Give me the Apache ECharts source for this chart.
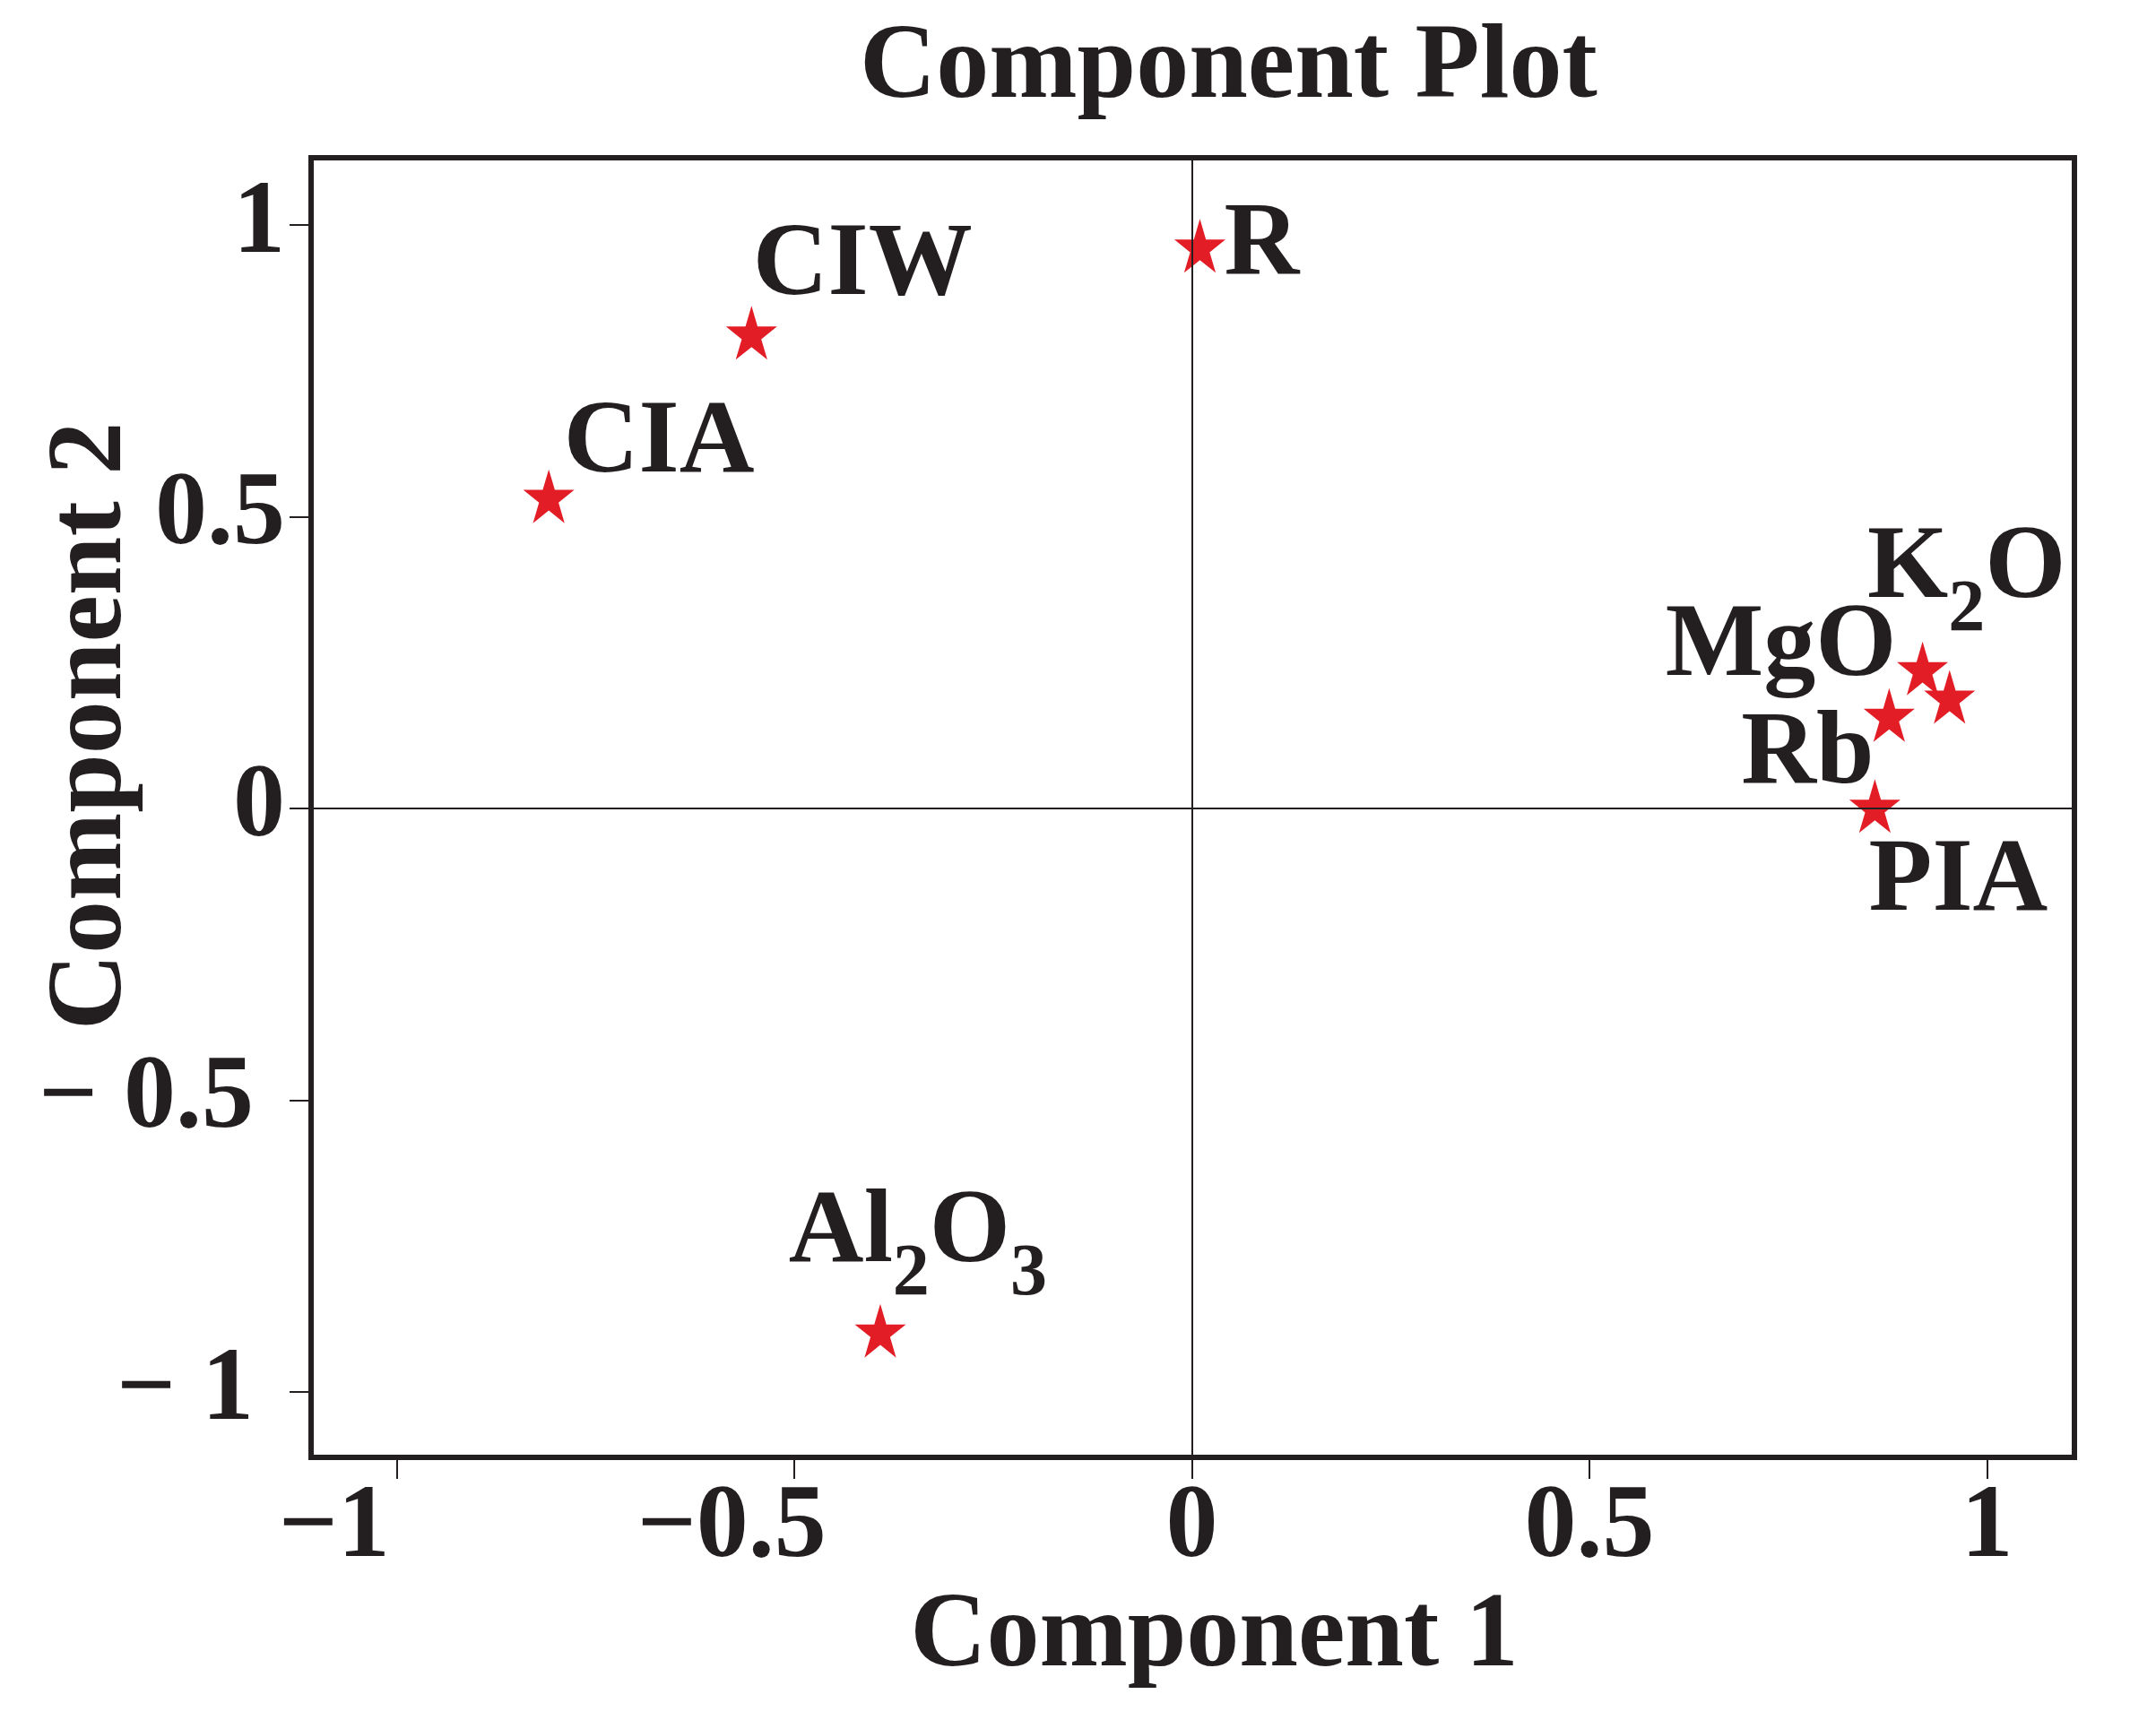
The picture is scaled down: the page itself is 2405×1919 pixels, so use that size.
<!DOCTYPE html>
<html><head><meta charset="utf-8">
<script src="https://cdn.jsdelivr.net/npm/echarts@6/dist/echarts.min.js"></script>
<style>html,body{margin:0;padding:0;background:#fff}#c{width:2405px;height:1919px}</style>
</head><body><div id="c"></div>
<script>
// ---- data ----
const names = ['R', 'CIW', 'CIA', 'Al2O3', 'MgO', 'K2O', 'Rb', 'PIA'];
const labelTexts = ['{n|R}', '{n|CIW}', '{n|CIA}', '{n|Al}{s|2}{n|O}{s|3}', '{n|MgO}', '{n|K}{s|2}{n|O}', '{n|Rb}', '{n|PIA}'];
const component1 = [0.010, -0.554, -0.809, -0.392, 0.919, 0.953, 0.877, 0.859];
const component2 = [0.964, 0.815, 0.535, -0.895, 0.240, 0.191, 0.160, 0.004];
const tickValues = [-1, -0.5, 0, 0.5, 1];
const titleText = 'Component Plot';
const xName = 'Component 1';
const yName = 'Component 2';

// ---- style (label placement relative to each star) ----
const labelOffsets = [[69, 1], [124, -73], [123, -58], [42, -108], [-158, -23], [19, -142], [-91, 45], [93, 86]];

const FONT = '"Liberation Serif", "Times New Roman", serif';
const INK = '#231f20';
const RED = '#e31d25';
const STAR = 'path://M0,-50 L11.23,-15.45 L47.55,-15.45 L18.16,5.9 L29.39,40.45 L0,19.1 L-29.39,40.45 L-18.16,5.9 L-47.55,-15.45 L-11.23,-15.45 Z';

const seriesData = names.map((n, i) => ({
  name: n,
  value: [component1[i], component2[i]],
  label: { offset: labelOffsets[i], formatter: labelTexts[i] }
}));

const chart = echarts.init(document.getElementById('c'));
chart.setOption({
  animation: false,
  backgroundColor: '#fff',
  title: {
    text: titleText, left: 959, top: 19, padding: 0,
    textStyle: { fontFamily: FONT, fontWeight: 'bold', fontSize: 118, color: INK }
  },
  grid: {
    left: 347, right: 91, top: 176, bottom: 293,
    show: true, borderColor: INK, borderWidth: 6, backgroundColor: 'transparent'
  },
  xAxis: {
    type: 'value', min: -1.108, max: 1.110,
    name: xName, nameLocation: 'middle', nameGap: 125,
    nameTextStyle: { fontFamily: FONT, fontWeight: 'bold', fontSize: 118, color: INK, padding: [0, 0, 0, 48] },
    axisLine: { show: false, onZero: false },
    splitLine: { show: false },
    axisTick: { show: true, customValues: tickValues, length: 24, lineStyle: { color: INK, width: 2 } },
    axisLabel: {
      customValues: tickValues, margin: 22,
      fontFamily: FONT, fontWeight: 'bold', fontSize: 116, color: INK,
      formatter: v => v < 0 ? '{neg|\u2212' + Math.abs(v) + '}' : '{p|' + v + '}',
      rich: {
        neg: { fontFamily: FONT, fontWeight: 'bold', fontSize: 116, color: INK, padding: [0, 140, 0, 0] },
        p: { fontFamily: FONT, fontWeight: 'bold', fontSize: 116, color: INK }
      }
    }
  },
  yAxis: {
    type: 'value', min: -1.112, max: 1.115,
    axisLine: { show: false, onZero: false },
    splitLine: { show: false },
    axisTick: { show: true, customValues: tickValues, length: 24, lineStyle: { color: INK, width: 2 } },
    axisLabel: {
      customValues: tickValues, margin: 29,
      fontFamily: FONT, fontWeight: 'bold', fontSize: 116, color: INK,
      formatter: v => v < 0 ? '{neg|\u2212 ' + Math.abs(v) + '}' : '{p|' + v + '}',
      rich: {
        neg: { fontFamily: FONT, fontWeight: 'bold', fontSize: 116, color: INK, padding: [0, 35, 0, 0] },
        p: { fontFamily: FONT, fontWeight: 'bold', fontSize: 116, color: INK }
      }
    }
  },
  graphic: [{
    type: 'text', x: 104, y: 810, rotation: Math.PI / 2,
    style: { text: yName, fontFamily: FONT, fontWeight: 'bold', fontSize: 118, fill: INK, align: 'center', verticalAlign: 'middle' }
  }],
  series: [{
    type: 'scatter',
    symbol: STAR,
    symbolSize: [57, 60],
    itemStyle: { color: RED, opacity: 1 },
    label: {
      show: true, position: 'inside',
      fontFamily: FONT, fontWeight: 'bold', fontSize: 116, color: INK, opacity: 1,
      rich: {
        n: { fontFamily: FONT, fontWeight: 'bold', fontSize: 116, lineHeight: 116, color: INK },
        s: { fontFamily: FONT, fontWeight: 'bold', fontSize: 82, lineHeight: 82, color: INK, padding: [92, 0, 0, 0] }
      }
    },
    emphasis: { disabled: true },
    markLine: {
      silent: true, symbol: ['none', 'none'], label: { show: false },
      lineStyle: { color: INK, width: 2, type: 'solid', opacity: 1 },
      data: [{ xAxis: 0 }, { yAxis: 0 }]
    },
    data: seriesData
  }]
});
</script></body></html>
